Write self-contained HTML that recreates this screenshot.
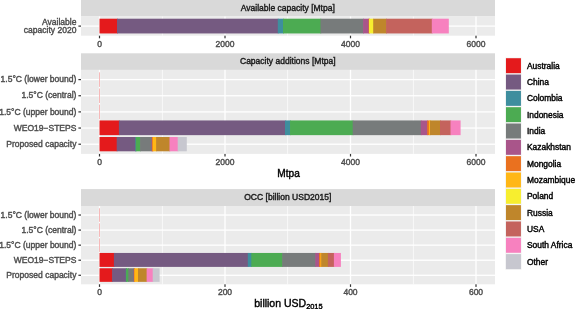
<!DOCTYPE html>
<html lang="en"><head><meta charset="utf-8"><title>Coal capacity chart</title>
<style>html,body{margin:0;padding:0;background:#fff}svg{display:block}text{font-family:"Liberation Sans",Arial,Helvetica,sans-serif;paint-order:stroke;stroke-width:0.4px}</style></head><body>
<svg width="575" height="309" viewBox="0 0 575 309">
<rect width="575" height="309" fill="#fff"/>
<rect x="81.0" y="0" width="414.0" height="16.5" fill="#D9D9D9"/>
<text x="287.8" y="11.10" font-size="8.52" fill="#1A1A1A" stroke="#1A1A1A" text-anchor="middle">Available capacity [Mtpa]</text>
<rect x="81.0" y="53.3" width="414.0" height="16.60000000000001" fill="#D9D9D9"/>
<text x="287.8" y="64.45" font-size="8.52" fill="#1A1A1A" stroke="#1A1A1A" text-anchor="middle">Capacity additions [Mtpa]</text>
<rect x="81.0" y="189.1" width="414.0" height="16.900000000000006" fill="#D9D9D9"/>
<text x="287.8" y="200.40" font-size="8.52" fill="#1A1A1A" stroke="#1A1A1A" text-anchor="middle">OCC [billion USD2015]</text>
<rect x="81.0" y="16.5" width="414.0" height="19.200000000000003" fill="#EBEBEB"/>
<rect x="81.0" y="69.9" width="414.0" height="84.0" fill="#EBEBEB"/>
<rect x="81.0" y="206.0" width="414.0" height="78.30000000000001" fill="#EBEBEB"/>
<rect x="161.92" y="16.5" width="0.66" height="19.200000000000003" fill="#fff"/>
<rect x="287.42" y="16.5" width="0.66" height="19.200000000000003" fill="#fff"/>
<rect x="412.92" y="16.5" width="0.66" height="19.200000000000003" fill="#fff"/>
<rect x="81.0" y="25.45" width="414.0" height="1.3" fill="#fff"/>
<rect x="98.85" y="16.5" width="1.3" height="19.200000000000003" fill="#fff"/>
<rect x="224.35" y="16.5" width="1.3" height="19.200000000000003" fill="#fff"/>
<rect x="349.85" y="16.5" width="1.3" height="19.200000000000003" fill="#fff"/>
<rect x="475.35" y="16.5" width="1.3" height="19.200000000000003" fill="#fff"/>
<rect x="161.92" y="69.9" width="0.66" height="84.0" fill="#fff"/>
<rect x="287.42" y="69.9" width="0.66" height="84.0" fill="#fff"/>
<rect x="412.92" y="69.9" width="0.66" height="84.0" fill="#fff"/>
<rect x="81.0" y="78.94" width="414.0" height="1.3" fill="#fff"/>
<rect x="81.0" y="95.10" width="414.0" height="1.3" fill="#fff"/>
<rect x="81.0" y="111.25" width="414.0" height="1.3" fill="#fff"/>
<rect x="81.0" y="127.40" width="414.0" height="1.3" fill="#fff"/>
<rect x="81.0" y="143.56" width="414.0" height="1.3" fill="#fff"/>
<rect x="98.85" y="69.9" width="1.3" height="84.0" fill="#fff"/>
<rect x="224.35" y="69.9" width="1.3" height="84.0" fill="#fff"/>
<rect x="349.85" y="69.9" width="1.3" height="84.0" fill="#fff"/>
<rect x="475.35" y="69.9" width="1.3" height="84.0" fill="#fff"/>
<rect x="161.92" y="206.0" width="0.66" height="78.30000000000001" fill="#fff"/>
<rect x="287.42" y="206.0" width="0.66" height="78.30000000000001" fill="#fff"/>
<rect x="412.92" y="206.0" width="0.66" height="78.30000000000001" fill="#fff"/>
<rect x="81.0" y="214.38" width="414.0" height="1.3" fill="#fff"/>
<rect x="81.0" y="229.44" width="414.0" height="1.3" fill="#fff"/>
<rect x="81.0" y="244.50" width="414.0" height="1.3" fill="#fff"/>
<rect x="81.0" y="259.56" width="414.0" height="1.3" fill="#fff"/>
<rect x="81.0" y="274.62" width="414.0" height="1.3" fill="#fff"/>
<rect x="98.85" y="206.0" width="1.3" height="78.30000000000001" fill="#fff"/>
<rect x="224.35" y="206.0" width="1.3" height="78.30000000000001" fill="#fff"/>
<rect x="349.85" y="206.0" width="1.3" height="78.30000000000001" fill="#fff"/>
<rect x="475.35" y="206.0" width="1.3" height="78.30000000000001" fill="#fff"/>
<rect x="99.50" y="18.70" width="18.20" height="14.75" fill="#E41A1C"/>
<rect x="117.00" y="18.70" width="161.50" height="14.75" fill="#755A81"/>
<rect x="277.80" y="18.70" width="5.90" height="14.75" fill="#3E8E9E"/>
<rect x="283.00" y="18.70" width="38.20" height="14.75" fill="#4CAB52"/>
<rect x="320.50" y="18.70" width="43.30" height="14.75" fill="#777B7B"/>
<rect x="363.10" y="18.70" width="6.20" height="14.75" fill="#A9558A"/>
<rect x="368.60" y="18.70" width="1.10" height="14.75" fill="#EA711F"/>
<rect x="369.00" y="18.70" width="4.90" height="14.75" fill="#F7EE2F"/>
<rect x="373.20" y="18.70" width="13.60" height="14.75" fill="#BF862B"/>
<rect x="386.10" y="18.70" width="46.40" height="14.75" fill="#C4635D"/>
<rect x="431.80" y="18.70" width="17.00" height="14.75" fill="#F781BF"/>
<rect x="99.2" y="72.32" width="0.6" height="14.54" fill="#F08A8A"/>
<rect x="99.2" y="88.48" width="0.6" height="14.54" fill="#F08A8A"/>
<rect x="99.2" y="104.63" width="0.6" height="14.54" fill="#F08A8A"/>
<rect x="99.50" y="120.45" width="20.10" height="14.70" fill="#E41A1C"/>
<rect x="118.90" y="120.45" width="166.80" height="14.70" fill="#755A81"/>
<rect x="285.00" y="120.45" width="5.75" height="14.70" fill="#3E8E9E"/>
<rect x="290.05" y="120.45" width="63.35" height="14.70" fill="#4CAB52"/>
<rect x="352.70" y="120.45" width="68.80" height="14.70" fill="#777B7B"/>
<rect x="420.80" y="120.45" width="7.10" height="14.70" fill="#A9558A"/>
<rect x="427.20" y="120.45" width="2.40" height="14.70" fill="#EA711F"/>
<rect x="428.90" y="120.45" width="1.75" height="14.70" fill="#FFB716"/>
<rect x="429.95" y="120.45" width="10.75" height="14.70" fill="#BF862B"/>
<rect x="440.00" y="120.45" width="11.20" height="14.70" fill="#C4635D"/>
<rect x="450.50" y="120.45" width="10.10" height="14.70" fill="#F781BF"/>
<rect x="99.50" y="137.00" width="17.90" height="14.30" fill="#E41A1C"/>
<rect x="116.70" y="137.00" width="19.30" height="14.30" fill="#755A81"/>
<rect x="135.30" y="137.00" width="1.20" height="14.30" fill="#3E8E9E"/>
<rect x="135.80" y="137.00" width="5.00" height="14.30" fill="#4CAB52"/>
<rect x="140.10" y="137.00" width="12.10" height="14.30" fill="#777B7B"/>
<rect x="151.50" y="137.00" width="1.20" height="14.30" fill="#A9558A"/>
<rect x="152.00" y="137.00" width="1.40" height="14.30" fill="#EA711F"/>
<rect x="152.70" y="137.00" width="4.10" height="14.30" fill="#FFB716"/>
<rect x="156.10" y="137.00" width="14.10" height="14.30" fill="#BF862B"/>
<rect x="169.50" y="137.00" width="8.90" height="14.30" fill="#F781BF"/>
<rect x="177.70" y="137.00" width="9.10" height="14.30" fill="#C7C7CF"/>
<rect x="99.2" y="208.26" width="0.6" height="13.55" fill="#F08A8A"/>
<rect x="99.2" y="223.32" width="0.6" height="13.55" fill="#F08A8A"/>
<rect x="99.2" y="238.37" width="0.6" height="13.55" fill="#F08A8A"/>
<rect x="99.50" y="252.95" width="15.10" height="13.95" fill="#E41A1C"/>
<rect x="113.90" y="252.95" width="134.60" height="13.95" fill="#755A81"/>
<rect x="247.80" y="252.95" width="4.20" height="13.95" fill="#3E8E9E"/>
<rect x="251.30" y="252.95" width="31.60" height="13.95" fill="#4CAB52"/>
<rect x="282.20" y="252.95" width="33.75" height="13.95" fill="#777B7B"/>
<rect x="315.25" y="252.95" width="4.45" height="13.95" fill="#A9558A"/>
<rect x="319.00" y="252.95" width="2.00" height="13.95" fill="#EA711F"/>
<rect x="320.30" y="252.95" width="1.60" height="13.95" fill="#FFB716"/>
<rect x="321.20" y="252.95" width="7.40" height="13.95" fill="#BF862B"/>
<rect x="327.90" y="252.95" width="6.70" height="13.95" fill="#C4635D"/>
<rect x="333.90" y="252.95" width="7.00" height="13.95" fill="#F781BF"/>
<rect x="99.50" y="268.25" width="13.30" height="13.60" fill="#E41A1C"/>
<rect x="112.10" y="268.25" width="14.40" height="13.60" fill="#755A81"/>
<rect x="125.80" y="268.25" width="1.00" height="13.60" fill="#3E8E9E"/>
<rect x="126.10" y="268.25" width="2.90" height="13.60" fill="#4CAB52"/>
<rect x="128.30" y="268.25" width="6.00" height="13.60" fill="#777B7B"/>
<rect x="133.60" y="268.25" width="1.10" height="13.60" fill="#A9558A"/>
<rect x="134.00" y="268.25" width="1.10" height="13.60" fill="#EA711F"/>
<rect x="134.40" y="268.25" width="4.30" height="13.60" fill="#FFB716"/>
<rect x="138.00" y="268.25" width="9.30" height="13.60" fill="#BF862B"/>
<rect x="146.60" y="268.25" width="6.80" height="13.60" fill="#F781BF"/>
<rect x="152.70" y="268.25" width="6.90" height="13.60" fill="#C7C7CF"/>
<rect x="98.9" y="35.7" width="1.2" height="2.6" fill="#333"/>
<text x="99.5" y="46.55" font-size="8.52" fill="#4D4D4D" stroke="#4D4D4D" text-anchor="middle">0</text>
<rect x="224.4" y="35.7" width="1.2" height="2.6" fill="#333"/>
<text x="225.0" y="46.55" font-size="8.52" fill="#4D4D4D" stroke="#4D4D4D" text-anchor="middle">2000</text>
<rect x="349.9" y="35.7" width="1.2" height="2.6" fill="#333"/>
<text x="350.5" y="46.55" font-size="8.52" fill="#4D4D4D" stroke="#4D4D4D" text-anchor="middle">4000</text>
<rect x="475.4" y="35.7" width="1.2" height="2.6" fill="#333"/>
<text x="476.0" y="46.55" font-size="8.52" fill="#4D4D4D" stroke="#4D4D4D" text-anchor="middle">6000</text>
<rect x="98.9" y="153.9" width="1.2" height="2.6" fill="#333"/>
<text x="99.5" y="164.85" font-size="8.52" fill="#4D4D4D" stroke="#4D4D4D" text-anchor="middle">0</text>
<rect x="224.4" y="153.9" width="1.2" height="2.6" fill="#333"/>
<text x="225.0" y="164.85" font-size="8.52" fill="#4D4D4D" stroke="#4D4D4D" text-anchor="middle">2000</text>
<rect x="349.9" y="153.9" width="1.2" height="2.6" fill="#333"/>
<text x="350.5" y="164.85" font-size="8.52" fill="#4D4D4D" stroke="#4D4D4D" text-anchor="middle">4000</text>
<rect x="475.4" y="153.9" width="1.2" height="2.6" fill="#333"/>
<text x="476.0" y="164.85" font-size="8.52" fill="#4D4D4D" stroke="#4D4D4D" text-anchor="middle">6000</text>
<rect x="98.9" y="284.3" width="1.2" height="2.6" fill="#333"/>
<text x="99.5" y="294.65" font-size="8.52" fill="#4D4D4D" stroke="#4D4D4D" text-anchor="middle">0</text>
<rect x="224.4" y="284.3" width="1.2" height="2.6" fill="#333"/>
<text x="225.0" y="294.65" font-size="8.52" fill="#4D4D4D" stroke="#4D4D4D" text-anchor="middle">200</text>
<rect x="349.9" y="284.3" width="1.2" height="2.6" fill="#333"/>
<text x="350.5" y="294.65" font-size="8.52" fill="#4D4D4D" stroke="#4D4D4D" text-anchor="middle">400</text>
<rect x="475.4" y="284.3" width="1.2" height="2.6" fill="#333"/>
<text x="476.0" y="294.65" font-size="8.52" fill="#4D4D4D" stroke="#4D4D4D" text-anchor="middle">600</text>
<rect x="78.4" y="78.99" width="2.6" height="1.2" fill="#333"/>
<text x="76.4" y="82.24" font-size="8.52" fill="#4D4D4D" stroke="#4D4D4D" text-anchor="end">1.5°C (lower bound)</text>
<rect x="78.4" y="95.15" width="2.6" height="1.2" fill="#333"/>
<text x="76.4" y="98.40" font-size="8.52" fill="#4D4D4D" stroke="#4D4D4D" text-anchor="end">1.5°C (central)</text>
<rect x="78.4" y="111.30" width="2.6" height="1.2" fill="#333"/>
<text x="76.4" y="114.55" font-size="8.52" fill="#4D4D4D" stroke="#4D4D4D" text-anchor="end">1.5°C (upper bound)</text>
<rect x="78.4" y="127.45" width="2.6" height="1.2" fill="#333"/>
<text x="76.4" y="130.70" font-size="8.52" fill="#4D4D4D" stroke="#4D4D4D" text-anchor="end">WEO19−STEPS</text>
<rect x="78.4" y="143.61" width="2.6" height="1.2" fill="#333"/>
<text x="76.4" y="146.86" font-size="8.52" fill="#4D4D4D" stroke="#4D4D4D" text-anchor="end">Proposed capacity</text>
<rect x="78.4" y="214.43" width="2.6" height="1.2" fill="#333"/>
<text x="76.4" y="217.68" font-size="8.52" fill="#4D4D4D" stroke="#4D4D4D" text-anchor="end">1.5°C (lower bound)</text>
<rect x="78.4" y="229.49" width="2.6" height="1.2" fill="#333"/>
<text x="76.4" y="232.74" font-size="8.52" fill="#4D4D4D" stroke="#4D4D4D" text-anchor="end">1.5°C (central)</text>
<rect x="78.4" y="244.55" width="2.6" height="1.2" fill="#333"/>
<text x="76.4" y="247.80" font-size="8.52" fill="#4D4D4D" stroke="#4D4D4D" text-anchor="end">1.5°C (upper bound)</text>
<rect x="78.4" y="259.61" width="2.6" height="1.2" fill="#333"/>
<text x="76.4" y="262.86" font-size="8.52" fill="#4D4D4D" stroke="#4D4D4D" text-anchor="end">WEO19−STEPS</text>
<rect x="78.4" y="274.67" width="2.6" height="1.2" fill="#333"/>
<text x="76.4" y="277.92" font-size="8.52" fill="#4D4D4D" stroke="#4D4D4D" text-anchor="end">Proposed capacity</text>
<rect x="78.4" y="25.50" width="2.6" height="1.2" fill="#333"/>
<text x="76.4" y="24.50" font-size="8.52" fill="#4D4D4D" stroke="#4D4D4D" text-anchor="end">Available</text>
<text x="76.4" y="33.10" font-size="8.52" fill="#4D4D4D" stroke="#4D4D4D" text-anchor="end">capacity 2020</text>
<text x="288.6" y="176.9" font-size="10.1" fill="#000" stroke="#000" text-anchor="middle">Mtpa</text>
<text x="288.4" y="307.0" font-size="10.5" fill="#000" stroke="#000" text-anchor="middle">billion USD<tspan font-size="7.4" dy="2.2">2015</tspan></text>
<rect x="505.3" y="57.55" width="16.32" height="16.32" fill="#F2F2F2"/>
<rect x="505.97" y="58.22" width="14.98" height="14.98" fill="#E41A1C"/>
<text x="527" y="68.61" font-size="8.42" fill="#000" stroke="#000">Australia</text>
<rect x="505.3" y="73.88" width="16.32" height="16.32" fill="#F2F2F2"/>
<rect x="505.97" y="74.55" width="14.98" height="14.98" fill="#755A81"/>
<text x="527" y="84.94" font-size="8.42" fill="#000" stroke="#000">China</text>
<rect x="505.3" y="90.20" width="16.32" height="16.32" fill="#F2F2F2"/>
<rect x="505.97" y="90.87" width="14.98" height="14.98" fill="#3E8E9E"/>
<text x="527" y="101.26" font-size="8.42" fill="#000" stroke="#000">Colombia</text>
<rect x="505.3" y="106.52" width="16.32" height="16.32" fill="#F2F2F2"/>
<rect x="505.97" y="107.19" width="14.98" height="14.98" fill="#4CAB52"/>
<text x="527" y="117.59" font-size="8.42" fill="#000" stroke="#000">Indonesia</text>
<rect x="505.3" y="122.85" width="16.32" height="16.32" fill="#F2F2F2"/>
<rect x="505.97" y="123.52" width="14.98" height="14.98" fill="#777B7B"/>
<text x="527" y="133.91" font-size="8.42" fill="#000" stroke="#000">India</text>
<rect x="505.3" y="139.18" width="16.32" height="16.32" fill="#F2F2F2"/>
<rect x="505.97" y="139.84" width="14.98" height="14.98" fill="#A9558A"/>
<text x="527" y="150.24" font-size="8.42" fill="#000" stroke="#000">Kazakhstan</text>
<rect x="505.3" y="155.50" width="16.32" height="16.32" fill="#F2F2F2"/>
<rect x="505.97" y="156.17" width="14.98" height="14.98" fill="#EA711F"/>
<text x="527" y="166.56" font-size="8.42" fill="#000" stroke="#000">Mongolia</text>
<rect x="505.3" y="171.82" width="16.32" height="16.32" fill="#F2F2F2"/>
<rect x="505.97" y="172.49" width="14.98" height="14.98" fill="#FFB716"/>
<text x="527" y="182.89" font-size="8.42" fill="#000" stroke="#000">Mozambique</text>
<rect x="505.3" y="188.15" width="16.32" height="16.32" fill="#F2F2F2"/>
<rect x="505.97" y="188.82" width="14.98" height="14.98" fill="#F7EE2F"/>
<text x="527" y="199.21" font-size="8.42" fill="#000" stroke="#000">Poland</text>
<rect x="505.3" y="204.47" width="16.32" height="16.32" fill="#F2F2F2"/>
<rect x="505.97" y="205.14" width="14.98" height="14.98" fill="#BF862B"/>
<text x="527" y="215.54" font-size="8.42" fill="#000" stroke="#000">Russia</text>
<rect x="505.3" y="220.80" width="16.32" height="16.32" fill="#F2F2F2"/>
<rect x="505.97" y="221.47" width="14.98" height="14.98" fill="#C4635D"/>
<text x="527" y="231.86" font-size="8.42" fill="#000" stroke="#000">USA</text>
<rect x="505.3" y="237.12" width="16.32" height="16.32" fill="#F2F2F2"/>
<rect x="505.97" y="237.79" width="14.98" height="14.98" fill="#F781BF"/>
<text x="527" y="248.19" font-size="8.42" fill="#000" stroke="#000">South Africa</text>
<rect x="505.3" y="253.45" width="16.32" height="16.32" fill="#F2F2F2"/>
<rect x="505.97" y="254.12" width="14.98" height="14.98" fill="#C7C7CF"/>
<text x="527" y="264.51" font-size="8.42" fill="#000" stroke="#000">Other</text>
</svg></body></html>
